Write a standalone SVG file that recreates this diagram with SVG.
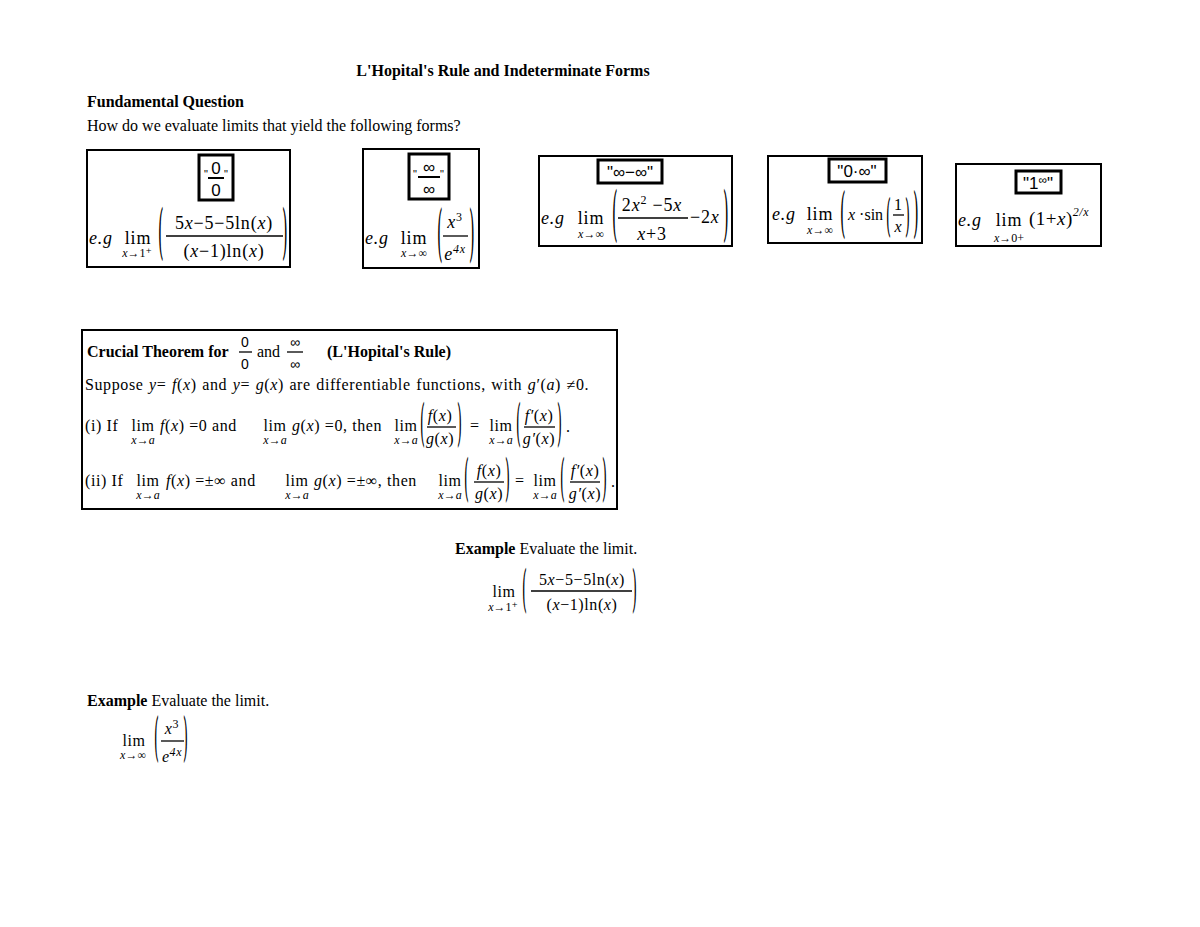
<svg xmlns="http://www.w3.org/2000/svg" width="1200" height="927" viewBox="0 0 1200 927">
<style>
text{font-family:"Liberation Serif","DejaVu Serif",serif;font-size:16px;fill:#000}
.b{font-weight:bold}
.i{font-style:italic}
.s{font-size:12px}
.m{font-size:18px;letter-spacing:0.8px}
.t{font-size:16px;letter-spacing:0.6px}
.p{font-size:18px;font-weight:normal;font-family:"DejaVu Serif","Liberation Serif",serif}
.sa{font-family:"Liberation Sans","DejaVu Sans",sans-serif;font-size:17px}
.q{font-family:"Liberation Sans","DejaVu Sans",sans-serif;font-size:11px}
.c{text-anchor:middle}
.o{fill:#fff;stroke:#000;stroke-width:2}
.in{fill:#fff;stroke:#000;stroke-width:3}
line{stroke:#000;stroke-width:1.3}
</style>
<text x="503" y="76" class="b c">L'Hopital's Rule and Indeterminate Forms</text>
<text x="87" y="107" class="b">Fundamental Question</text>
<text x="87" y="131">How do we evaluate limits that yield the following forms?</text>

<g id="box1">
<rect x="87" y="150" width="203" height="117" class="o"/>
<rect x="199" y="155" width="34" height="45" class="in"/>
<text x="204" y="178" class="q">"</text>
<text x="216" y="174" class="sa c">0</text>
<text x="224" y="178" class="q">"</text>
<line x1="208" y1="178" x2="224" y2="178" style="stroke-width:2"/>
<text x="216" y="196" class="sa c">0</text>
<text x="89" y="244" class="i m">e.g</text>
<text x="138" y="244" class="m c">lim</text>
<text x="137" y="257" class="s c"><tspan class="i">x</tspan>→1⁺</text>
<text class="p" transform="translate(158,252) scale(0.8,3.27)">(</text>
<text class="p" transform="translate(282,252) scale(0.8,3.27)">)</text>
<text x="224" y="229" class="m c">5<tspan class="i">x</tspan>−5−5ln(<tspan class="i">x</tspan>)</text>
<line x1="166" y1="236" x2="283" y2="236"/>
<text x="224" y="257" class="m c">(<tspan class="i">x</tspan>−1)ln(<tspan class="i">x</tspan>)</text>
</g>

<g id="box2">
<rect x="363" y="149" width="116" height="119" class="o"/>
<rect x="409" y="154" width="40" height="45" class="in"/>
<text x="413" y="178" class="q">"</text>
<text x="429" y="173" class="sa c">∞</text>
<text x="440" y="178" class="q">"</text>
<line x1="418" y1="177" x2="440" y2="177" style="stroke-width:2"/>
<text x="429" y="195" class="sa c">∞</text>
<text x="365" y="244" class="i m">e.g</text>
<text x="414" y="244" class="m c">lim</text>
<text x="414" y="257" class="s c"><tspan class="i">x</tspan>→∞</text>
<text class="p" transform="translate(437,254) scale(0.8,3.4)">(</text>
<text class="p" transform="translate(469,254) scale(0.8,3.4)">)</text>
<text x="455" y="228" class="m c i">x<tspan class="s" dy="-7" style="font-style:normal">3</tspan></text>
<line x1="443" y1="236" x2="468" y2="236"/>
<text x="455" y="260" class="m c i">e<tspan class="s" dy="-7">4x</tspan></text>
</g>

<g id="box3">
<rect x="539" y="156" width="193" height="90" class="o"/>
<rect x="598" y="160" width="64" height="23" class="in"/>
<text x="630" y="178" class="sa c">"∞−∞"</text>
<text x="541" y="224" class="i m">e.g</text>
<text x="591" y="224" class="m c">lim</text>
<text x="591" y="238" class="s c"><tspan class="i">x</tspan>→∞</text>
<text class="p" transform="translate(612,234) scale(0.8,3.27)">(</text>
<text class="p" transform="translate(723,234) scale(0.8,3.27)">)</text>
<text x="652" y="211" class="m c">2<tspan class="i">x</tspan><tspan class="s" dy="-7">2</tspan><tspan dy="7"> −5</tspan><tspan class="i">x</tspan></text>
<line x1="618" y1="218" x2="688" y2="218"/>
<text x="652" y="240" class="m c"><tspan class="i">x</tspan>+3</text>
<text x="690" y="223" class="m">−2<tspan class="i">x</tspan></text>
</g>

<g id="box4">
<rect x="768" y="156" width="154" height="87" class="o"/>
<rect x="829" y="159" width="57" height="23" class="in"/>
<text x="857" y="177" class="sa c">"0·∞"</text>
<text x="772" y="220" class="i m">e.g</text>
<text x="820" y="220" class="m c">lim</text>
<text x="820" y="234" class="s c"><tspan class="i">x</tspan>→∞</text>
<text class="p" transform="translate(840,231) scale(0.8,3.04)">(</text>
<text class="p" transform="translate(913,231) scale(0.8,3.04)">)</text>
<text x="848" y="220" style="font-size:16px"><tspan class="i">x</tspan> ·sin</text>
<text class="p" transform="translate(886,231) scale(0.7,2.46)">(</text>
<text class="p" transform="translate(905,231) scale(0.7,2.46)">)</text>
<text x="898" y="210" class="c" style="font-size:16px">1</text>
<line x1="893" y1="215" x2="904" y2="215"/>
<text x="898" y="232" class="c i" style="font-size:16px">x</text>
</g>

<g id="box5">
<rect x="956" y="164" width="145" height="82" class="o"/>
<rect x="1016" y="171" width="45" height="22" class="in"/>
<text x="1038" y="189" class="sa c">"1<tspan class="s" dy="-5">∞</tspan><tspan dy="5">"</tspan></text>
<text x="958" y="226" class="i m">e.g</text>
<text x="1009" y="226" class="m c">lim</text>
<text x="1009" y="242" class="s c"><tspan class="i">x</tspan>→0+</text>
<text x="1029" y="225" style="font-size:19px;letter-spacing:0.5px">(1+<tspan class="i">x</tspan>)<tspan class="s i" dy="-9">2/x</tspan></text>
</g>

<g id="theorem">
<rect x="82" y="330" width="535" height="179" class="o"/>
<text x="87" y="357" class="b">Crucial Theorem  for</text>
<text x="245" y="347" class="sa c" style="font-size:14px">0</text>
<line x1="239" y1="352" x2="252" y2="352"/>
<text x="245" y="369" class="sa c" style="font-size:14px">0</text>
<text x="257" y="357">and</text>
<text x="295" y="347" class="sa c" style="font-size:14px">∞</text>
<line x1="287" y1="352" x2="303" y2="352"/>
<text x="295" y="369" class="sa c" style="font-size:14px">∞</text>
<text x="327" y="357" class="b">(L'Hopital's Rule)</text>
<text x="85" y="390" class="t" style="word-spacing:1px">Suppose  <tspan class="i">y</tspan>= <tspan class="i">f</tspan>(<tspan class="i">x</tspan>)  and  <tspan class="i">y</tspan>= <tspan class="i">g</tspan>(<tspan class="i">x</tspan>)  are differentiable functions, with <tspan class="i">g</tspan>′(<tspan class="i">a</tspan>) ≠0.</text>
<text x="85" y="431" class="t">(i)  If</text>
<text x="143" y="431" class="c t">lim</text><text x="143" y="444" class="s c i">x→a</text>
<text x="160" y="431" class="t"><tspan class="i">f</tspan>(<tspan class="i">x</tspan>) =0  and</text>
<text x="275" y="431" class="c t">lim</text><text x="275" y="444" class="s c i">x→a</text>
<text x="292" y="431" class="t"><tspan class="i">g</tspan>(<tspan class="i">x</tspan>) =0,  then</text>
<text x="406" y="431" class="c t">lim</text><text x="406" y="444" class="s c i">x→a</text>
<text class="p" transform="translate(420,440) scale(0.7,2.75)">(</text>
<text x="440" y="421" class="c i t">f<tspan style="font-style:normal">(</tspan>x<tspan style="font-style:normal">)</tspan></text>
<line x1="427" y1="427" x2="456" y2="427"/>
<text x="440" y="444" class="c i t">g<tspan style="font-style:normal">(</tspan>x<tspan style="font-style:normal">)</tspan></text>
<text class="p" transform="translate(457,440) scale(0.7,2.75)">)</text>
<text x="470" y="431">=</text>
<text x="501" y="431" class="c t">lim</text><text x="501" y="444" class="s c i">x→a</text>
<text class="p" transform="translate(516,440) scale(0.7,2.75)">(</text>
<text x="539" y="421" class="c i t">f′<tspan style="font-style:normal">(</tspan>x<tspan style="font-style:normal">)</tspan></text>
<line x1="524" y1="427" x2="555" y2="427"/>
<text x="539" y="444" class="c i t">g′<tspan style="font-style:normal">(</tspan>x<tspan style="font-style:normal">)</tspan></text>
<text class="p" transform="translate(557,440) scale(0.7,2.75)">)</text>
<text x="566" y="432">.</text>

<text x="85" y="486" class="t">(ii)  If</text>
<text x="148" y="486" class="c t">lim</text><text x="148" y="499" class="s c i">x→a</text>
<text x="166" y="486" class="t"><tspan class="i">f</tspan>(<tspan class="i">x</tspan>) =±∞   and</text>
<text x="297" y="486" class="c t">lim</text><text x="297" y="499" class="s c i">x→a</text>
<text x="314" y="486" class="t"><tspan class="i">g</tspan>(<tspan class="i">x</tspan>) =±∞,  then</text>
<text x="450" y="486" class="c t">lim</text><text x="450" y="499" class="s c i">x→a</text>
<text class="p" transform="translate(464,495) scale(0.7,2.75)">(</text>
<text x="489" y="476" class="c i t">f<tspan style="font-style:normal">(</tspan>x<tspan style="font-style:normal">)</tspan></text>
<line x1="474" y1="482" x2="504" y2="482"/>
<text x="489" y="499" class="c i t">g<tspan style="font-style:normal">(</tspan>x<tspan style="font-style:normal">)</tspan></text>
<text class="p" transform="translate(505,495) scale(0.7,2.75)">)</text>
<text x="515" y="486">=</text>
<text x="545" y="486" class="c t">lim</text><text x="545" y="499" class="s c i">x→a</text>
<text class="p" transform="translate(560,495) scale(0.7,2.75)">(</text>
<text x="585" y="476" class="c i t">f′<tspan style="font-style:normal">(</tspan>x<tspan style="font-style:normal">)</tspan></text>
<line x1="570" y1="482" x2="600" y2="482"/>
<text x="585" y="499" class="c i t">g′<tspan style="font-style:normal">(</tspan>x<tspan style="font-style:normal">)</tspan></text>
<text class="p" transform="translate(602,495) scale(0.7,2.75)">)</text>
<text x="611" y="487">.</text>
</g>

<g id="example1">
<text x="455" y="554"><tspan class="b">Example</tspan>  Evaluate the limit.</text>
<text x="504" y="597" class="c t">lim</text>
<text x="503" y="611" class="s c"><tspan class="i">x</tspan>→1⁺</text>
<text class="p" transform="translate(522,606) scale(0.7,2.8)">(</text>
<text class="p" transform="translate(632,606) scale(0.7,2.8)">)</text>
<text x="582" y="585" class="c t">5<tspan class="i">x</tspan>−5−5ln(<tspan class="i">x</tspan>)</text>
<line x1="531" y1="591" x2="632" y2="591"/>
<text x="582" y="610" class="c t">(<tspan class="i">x</tspan>−1)ln(<tspan class="i">x</tspan>)</text>
</g>

<g id="example2">
<text x="87" y="706"><tspan class="b">Example</tspan>  Evaluate the limit.</text>
<text x="134" y="746" class="c t">lim</text>
<text x="133" y="759" class="s c"><tspan class="i">x</tspan>→∞</text>
<text class="p" transform="translate(154,755) scale(0.7,2.92)">(</text>
<text class="p" transform="translate(183,755) scale(0.7,2.92)">)</text>
<text x="172" y="734" class="c i t">x<tspan class="s" dy="-6" style="font-style:normal">3</tspan></text>
<line x1="161" y1="741" x2="184" y2="741"/>
<text x="172" y="762" class="c i t">e<tspan class="s" dy="-6">4x</tspan></text>
</g>
</svg>
